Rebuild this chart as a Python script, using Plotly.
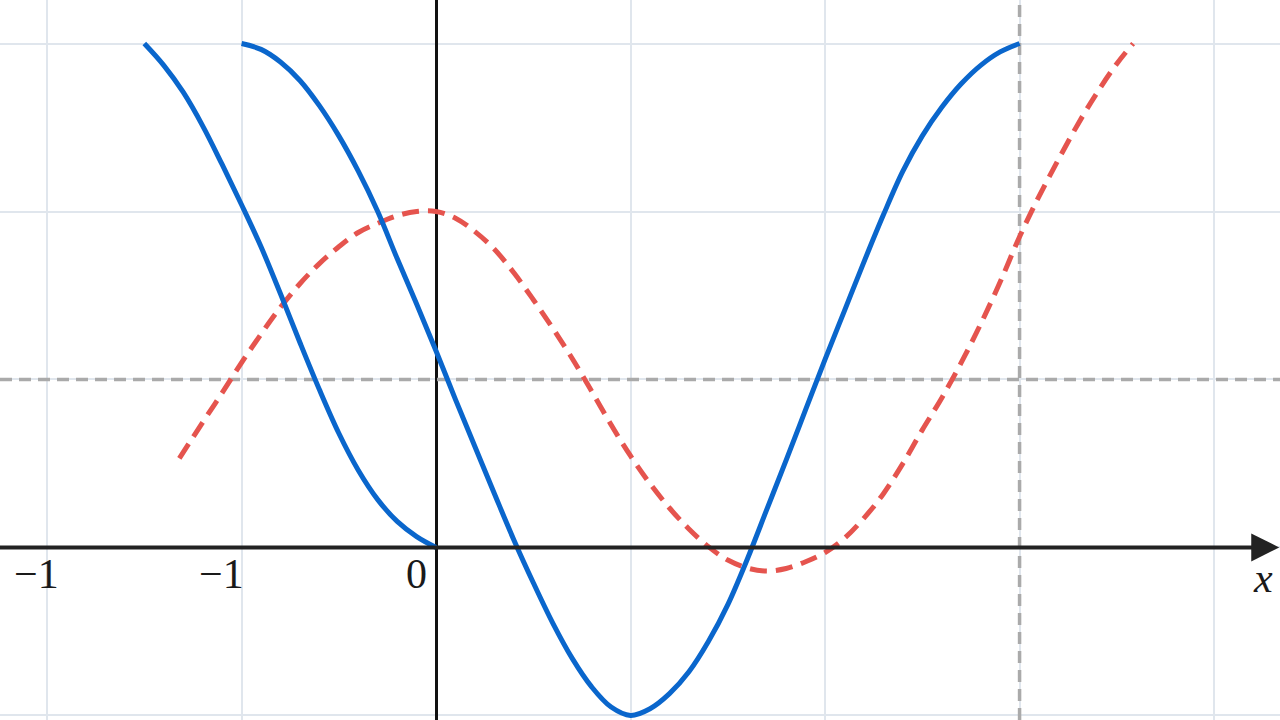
import plotly.graph_objects as go

# valeurs (unités du repère)
x_bleu1 = [-1.5, -1.4, -1.3, -1.2, -1.1, -1.0, -0.9, -0.8, -0.7, -0.6,
           -0.5, -0.4, -0.3, -0.2, -0.1, 0.0]
y_bleu1 = [3.0, 2.87, 2.71, 2.51, 2.28, 2.04, 1.79, 1.51, 1.22, 0.94,
           0.68, 0.46, 0.285, 0.155, 0.065, 0.0]

x_bleu2 = [-1.0, -0.9, -0.8, -0.7, -0.6, -0.5, -0.4, -0.3, -0.2, -0.1,
           0.0, 0.1, 0.2, 0.3, 0.4, 0.5, 0.6, 0.7, 0.8, 0.9,
           1.0, 1.1, 1.2, 1.3, 1.4, 1.5, 1.6, 1.7, 1.8, 1.9,
           2.0, 2.1, 2.2, 2.3, 2.4, 2.5, 2.6, 2.7, 2.8, 2.9, 3.0]
y_bleu2 = [3.0, 2.965, 2.89, 2.78, 2.63, 2.45, 2.24, 2.0, 1.72, 1.45,
           1.17, 0.88, 0.60, 0.32, 0.045, -0.21, -0.45, -0.66, -0.83, -0.95,
           -1.0, -0.96, -0.87, -0.74, -0.56, -0.34, -0.07, 0.225, 0.52, 0.82,
           1.12, 1.41, 1.70, 1.98, 2.24, 2.45, 2.62, 2.76, 2.87, 2.95, 3.0]

x_rouge = [-1.32, -1.2, -1.1, -1.0, -0.9, -0.8, -0.7, -0.6, -0.5, -0.4,
           -0.3, -0.2, -0.1, 0.0, 0.1, 0.2, 0.3, 0.4, 0.5, 0.6,
           0.7, 0.8, 0.9, 1.0, 1.1, 1.2, 1.3, 1.4, 1.5, 1.6,
           1.7, 1.8, 1.9, 2.0, 2.1, 2.2, 2.3, 2.4, 2.5, 2.6,
           2.7, 2.8, 2.9, 3.0, 3.1, 3.2, 3.3, 3.4, 3.5, 3.584]
y_rouge = [0.53, 0.745, 0.92, 1.10, 1.27, 1.43, 1.57, 1.69, 1.79, 1.875,
           1.93, 1.975, 2.0, 2.0, 1.96, 1.88, 1.775, 1.635, 1.475, 1.305,
           1.125, 0.93, 0.73, 0.545, 0.38, 0.235, 0.11, 0.005, -0.075, -0.122,
           -0.14, -0.125, -0.085, -0.03, 0.055, 0.175, 0.32, 0.50, 0.70, 0.89,
           1.10, 1.33, 1.58, 1.85, 2.09, 2.31, 2.52, 2.71, 2.88, 3.0]

tick_vals = [-2, -1, 0]
tick_text = ["−1", "−1", "0"]

y_ref = 1   # droite horizontale en pointillés
x_ref = 3   # droite verticale en pointillés

x_min, x_max = -2.242, 4.339
y_min, y_max = -1.027, 3.259
x_fleche = 4.335

bleu = 'rgb(10,102,204)'
rouge = 'rgb(229,84,78)'
gris = '#aaaaaa'
police = 'Liberation Serif'

fig = go.Figure()

fig.add_trace(go.Scatter(x=x_rouge, y=y_rouge, mode='lines', hoverinfo='skip',
                         line=dict(color=rouge, width=5, dash='17px,9px',
                                   shape='spline', smoothing=1.0)))
fig.add_trace(go.Scatter(x=x_bleu1, y=y_bleu1, mode='lines', hoverinfo='skip',
                         line=dict(color=bleu, width=5, shape='spline', smoothing=1.0)))
fig.add_trace(go.Scatter(x=x_bleu2, y=y_bleu2, mode='lines', hoverinfo='skip',
                         line=dict(color=bleu, width=5, shape='spline', smoothing=1.0)))

# droites de référence en pointillés gris
fig.add_shape(type='line', x0=x_min, x1=x_max, y0=y_ref, y1=y_ref, layer='between',
              line=dict(color=gris, width=3.5, dash='12px,7px'))
fig.add_shape(type='line', x0=x_ref, x1=x_ref, y0=y_min, y1=y_max, layer='between',
              line=dict(color=gris, width=3.5, dash='12px,7px'))

# axe des abscisses avec flèche
fig.add_annotation(x=x_fleche, y=0, ax=x_min - 0.1, ay=0, xref='x', yref='y',
                   axref='x', ayref='y', text='', showarrow=True,
                   arrowhead=2, arrowsize=1.4, arrowwidth=4, arrowcolor='#222222',
                   standoff=0, startstandoff=0)

for v, t in zip(tick_vals, tick_text):
    decalage = -11 if v == tick_vals[0] else -20
    fig.add_annotation(x=v, y=0, text=t, showarrow=False, xanchor='center', yanchor='middle',
                       xshift=decalage, yshift=-27,
                       font=dict(family=police, size=42, color='#1a1a1a'))

fig.add_annotation(x=4.25, y=0, text='<i>x</i>', showarrow=False,
                   xanchor='center', yanchor='middle', yshift=-31,
                   font=dict(family=police, size=42, color='#1a1a1a'))

fig.update_xaxes(range=[x_min, x_max], dtick=1, tick0=0, showgrid=True,
                 gridcolor='#e0e6ed', gridwidth=1.5, showticklabels=False,
                 zeroline=True, zerolinecolor='#111111', zerolinewidth=2.5,
                 showline=False)
fig.update_yaxes(range=[y_min, y_max], dtick=1, tick0=0, showgrid=True,
                 gridcolor='#e0e6ed', gridwidth=1.5, showticklabels=False,
                 zeroline=False, showline=False)

fig.update_layout(width=1280, height=720, margin=dict(l=0, r=0, t=0, b=0),
                  plot_bgcolor='white', paper_bgcolor='white', showlegend=False)

# supprime la marge par défaut du body pour coller la figure au bord de la fenêtre
fig.write_html("out.html", config={'displayModeBar': False},
               post_script="document.body.style.margin='0';document.body.style.overflow='hidden';")
